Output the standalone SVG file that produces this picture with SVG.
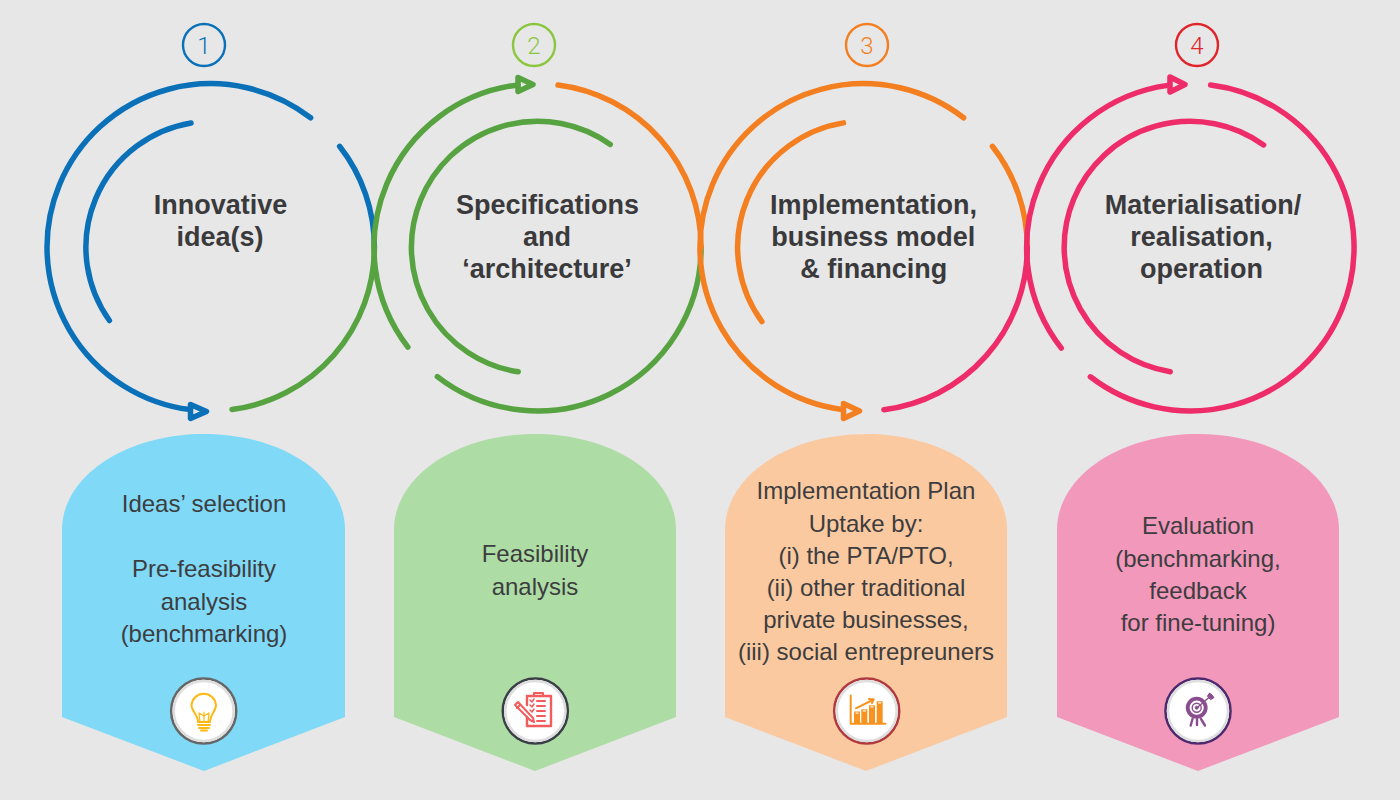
<svg xmlns="http://www.w3.org/2000/svg" width="1400" height="800" viewBox="0 0 1400 800">
<style>
.arc{fill:none;stroke-width:5.5;stroke-linecap:round}
.head{fill:none;stroke-width:5.5;stroke-linejoin:round}
.blue{stroke:#0a71b9}.green{stroke:#57a341}.orange{stroke:#f37f20}.pink{stroke:#ee2c69}
.t{font-family:"Liberation Sans",Arial,sans-serif;text-anchor:middle;fill:#3a3a3c}
.title{font-size:27px;font-weight:bold}
.body{font-size:24px;fill:#3d3d3f}
.num{font-family:Roboto,"Liberation Sans",sans-serif;font-weight:300;text-anchor:middle;font-size:24px}
.badge{fill:none;stroke-width:2.4}
.ring{fill:#fff;stroke-width:2.6}
.inner{fill:none;stroke:#dedede;stroke-width:2.6}
.ic{fill:none;stroke-width:2;stroke-linecap:round;stroke-linejoin:round}
</style>
<rect width="1400" height="800" fill="#e7e7e7"/>
<g id="connectors">
<path class="arc blue" d="M339.6 146.3A163.6 163.6 0 0 1 374.4 247.3"/>
<path class="arc blue" d="M310.6 117.8A163.6 163.6 0 1 0 190.1 409.6"/>
<path class="arc blue" d="M191 123A126 126 0 0 0 109.4 320.5"/>
<path class="head blue" d="M190.5 404.5L206.5 411.5L190.5 418.5Z"/>
<path class="arc green" d="M232 409.5A163.6 163.6 0 0 0 374.4 247.3"/>
<path class="arc green" d="M407.9 347.1A163.6 163.6 0 0 1 518.1 84.9"/>
<path class="head green" d="M518 77.5L533 84.5L518 91.5Z"/>
<path class="arc green" d="M610.3 144.5A126 126 0 1 0 518.2 371.8"/>
<path class="arc green" d="M437.3 376.6A163.6 163.6 0 0 0 701.1 247.3"/>
<path class="arc orange" d="M558 85A163.6 163.6 0 0 1 701.1 247.3"/>
<path class="arc orange" d="M992.4 146.3A163.6 163.6 0 0 1 1027.3 247.3"/>
<path class="arc orange" d="M963.6 117.8A163.6 163.6 0 1 0 841.8 409.4"/>
<path class="head orange" d="M843.5 403.5L859.5 411L843.5 418.5Z"/>
<path class="arc orange" d="M843.5 122.9A126 126 0 0 0 761.9 321.6"/>
<path class="arc pink" d="M883.9 409.7A163.6 163.6 0 0 0 1027.3 247.3"/>
<path class="arc pink" d="M1061.3 348.1A163.6 163.6 0 0 1 1167.7 85.4"/>
<path class="head pink" d="M1170 77L1185 84.5L1170 92Z"/>
<path class="arc pink" d="M1263.6 144.9A126 126 0 1 0 1170.2 371.7"/>
<path class="arc pink" d="M1210.6 85A163.6 163.6 0 1 1 1090.4 376.8"/>
</g>
<g id="node-1">
<circle class="badge" cx="204" cy="45" r="21" stroke="#0a71b9"/>
<text class="num" x="204" y="53.5" fill="#0a71b9">1</text>
<text class="t title" x="220.5" y="214">Innovative</text>
<text class="t title" x="220" y="246">idea(s)</text>
<path fill="#7fd9f7" d="M62 530C62 476 126 434 204 434S345 476 345 530V717L204 771L62 717Z"/>
<text class="t body" x="204" y="512">Ideas’ selection</text>
<text class="t body" x="204" y="577">Pre-feasibility</text>
<text class="t body" x="204" y="610">analysis</text>
<text class="t body" x="204" y="642">(benchmarking)</text>
<circle class="ring" cx="203.7" cy="711" r="32.5" stroke="#666"/>
<circle class="inner" cx="203.7" cy="711" r="30"/>
<g class="ic" stroke="#fdb813">
<path d="M198 722C198 715 191.500 711 191.500 705A12.300 12.300 0 0 1 216 705C216 711 210 715 210 722Z"/>
<path d="M198 725H210M199 728H209M201 730.500H207"/>
<path stroke-width="1.200" d="M200 722L199 713M208 722L209 713M204 722V712M199 713L204 716L209 713"/>
</g>
</g>
<g id="node-2">
<circle class="badge" cx="534" cy="45" r="21" stroke="#8cc63f"/>
<text class="num" x="534" y="53.5" fill="#8cc63f">2</text>
<text class="t title" x="547.5" y="214">Specifications</text>
<text class="t title" x="547" y="246">and</text>
<text class="t title" x="547" y="278">‘architecture’</text>
<path fill="#aedca5" d="M394 530C394 476 457 434 535 434S676 476 676 530V717L535 771L394 717Z"/>
<text class="t body" x="535" y="562">Feasibility</text>
<text class="t body" x="535" y="595">analysis</text>
<circle class="ring" cx="535.300" cy="711" r="32.5" stroke="#3a3f47"/>
<circle class="inner" cx="535.300" cy="711" r="30"/>
<g class="ic" stroke="#f25c5c">
<path stroke-width="2.400" d="M527 705V696H551V726H527V717"/>
<path d="M534 696V693H543V696"/>
<path d="M537 701H545M537 706H545M537 711H545M537 716H545M537 721H545"/>
<path stroke-width="1.500" d="M530 700L532 702L534 699M530 705L532 707L534 704M530 710L532 712L534 709"/>
<path d="M515 705L518 702L533 718L534 722L530 720Z"/>
<path d="M517 708L520 705"/>
</g>
</g>
<g id="node-3">
<circle class="badge" cx="867" cy="45" r="21" stroke="#f37f20"/>
<text class="num" x="867" y="53.5" fill="#f37f20">3</text>
<text class="t title" x="873.500" y="214">Implementation,</text>
<text class="t title" x="873.300" y="246">business model</text>
<text class="t title" x="873.800" y="278">&amp; financing</text>
<path fill="#fac9a0" d="M725 530C725 476 788 434 866 434S1007 476 1007 530V717L866 771L725 717Z"/>
<text class="t body" x="866" y="499">Implementation Plan</text>
<text class="t body" x="866" y="532">Uptake by:</text>
<text class="t body" x="866" y="564">(i) the PTA/PTO,</text>
<text class="t body" x="866" y="596">(ii) other traditional</text>
<text class="t body" x="866" y="628">private businesses,</text>
<text class="t body" x="866" y="660">(iii) social entrepreuners</text>
<circle class="ring" cx="866.700" cy="711" r="32.5" stroke="#b03a3e"/>
<circle class="inner" cx="866.700" cy="711" r="30"/>
<g fill="#f7931e">
<rect x="854" y="711.500" width="6" height="12"/>
<rect x="861.300" y="709.300" width="6" height="14.200"/>
<rect x="869" y="705.300" width="6" height="18.200"/>
<rect x="876.700" y="701.300" width="6" height="22.200"/>
</g>
<g fill="#fff">
<rect x="855.500" y="712.500" width="3" height="1.200"/>
<rect x="862.800" y="710.300" width="3" height="1.200"/>
<rect x="870.500" y="706.300" width="3" height="1.200"/>
<rect x="878.200" y="702.300" width="3" height="1.200"/>
</g>
<g class="ic" stroke="#f7931e" stroke-width="1.200">
<path d="M850.700 695.500V723.700H885.500"/>
<path d="M856 708.300L873.500 699.500"/>
<path d="M869 699L873.500 699.500L872 703"/>
</g>
</g>
<g id="node-4">
<circle class="badge" cx="1197" cy="45" r="21" stroke="#e1242a"/>
<text class="num" x="1197" y="53.5" fill="#e1242a">4</text>
<text class="t title" x="1203" y="214">Materialisation/</text>
<text class="t title" x="1201.500" y="246">realisation,</text>
<text class="t title" x="1201.500" y="278">operation</text>
<path fill="#f298bb" d="M1057 530C1057 476 1120 434 1198 434S1339 476 1339 530V717L1198 771L1057 717Z"/>
<text class="t body" x="1198" y="534">Evaluation</text>
<text class="t body" x="1198" y="567">(benchmarking,</text>
<text class="t body" x="1198" y="599">feedback</text>
<text class="t body" x="1198" y="631">for fine-tuning)</text>
<circle class="ring" cx="1198" cy="711" r="32.5" stroke="#4d2a6e"/>
<circle class="inner" cx="1198" cy="711" r="30"/>
<g class="ic" stroke="#8a4d8f">
<circle cx="1196.700" cy="707.700" r="9" stroke-width="3.800"/>
<circle cx="1196.700" cy="707.700" r="4.500" stroke-width="1.400"/>
<circle cx="1196.700" cy="707.700" r="1.500" fill="#8a4d8f" stroke-width="1"/>
<path d="M1192.500 719L1190.700 725.500M1201 719L1205 725.500M1197 719V725" stroke-width="2.400"/>
<path d="M1197 707.700L1209.500 697" stroke-width="1.400"/>
<path fill="#8a4d8f" stroke-width="1" d="M1207.500 696L1209.500 693L1212 695L1214 697.500L1211 699.500Z"/>
</g>
</g>
</svg>
